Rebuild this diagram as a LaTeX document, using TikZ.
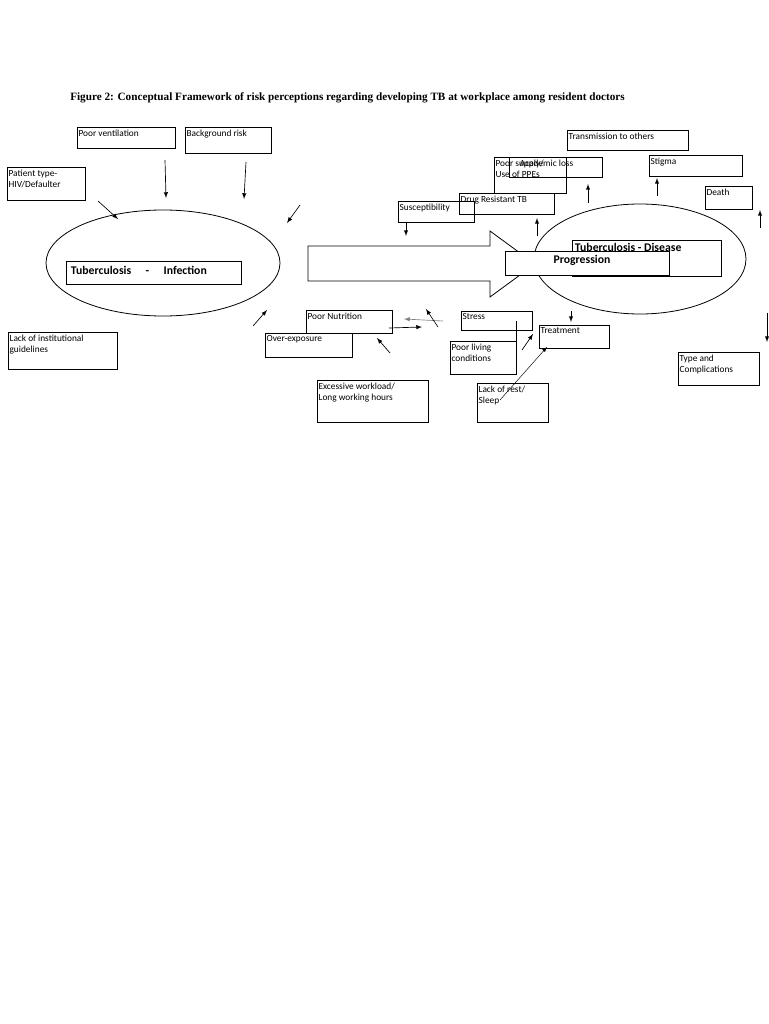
\documentclass[tikz,border=0pt]{standalone}
\usepackage{fontspec}
\setmainfont{Carlito}
\newfontfamily\ttl{Liberation Serif}
\tikzset{bxs/.style={draw=black,line width=0.6pt},
tx/.style={font=\fontsize{7pt}{8.6pt}\selectfont,inner xsep=1pt,inner ysep=1.8pt,align=left},
big/.style={font=\fontsize{8.8pt}{10pt}\selectfont\bfseries,inner sep=2pt},
ar/.style={-latex,line width=0.5pt}}
\newcommand\bx[6]{\draw[bxs] (#2,#3) rectangle (#4,#5); \node[tx,anchor=north west] (#1) at (#2,#3) {#6};}
\begin{document}
\begin{tikzpicture}[x=0.75pt,y=-0.75pt]
\useasboundingbox[fill=white] (0,0) rectangle (768,1024);
\node[anchor=west,font=\ttl\fontsize{8.4pt}{10pt}\selectfont\bfseries,inner sep=0] (title) at (70,98) {Figure 2: Conceptual Framework of risk perceptions regarding developing TB at workplace among resident doctors};
% ellipses
\draw[line width=0.6pt] (163,263) ellipse [x radius=117,y radius=53];
\draw[line width=0.6pt] (640,259) ellipse [x radius=106,y radius=55];
% big arrow
\draw[line width=0.6pt,fill=white] (308,246) -- (490,246) -- (490,231) -- (535,264) -- (490,297) -- (490,281) -- (308,281) -- cycle;
\bx{pv}{77}{127}{175}{148}{Poor ventilation}
\bx{br}{185}{127}{271}{153}{Background risk}
\bx{pt}{7}{167}{85}{200}{Patient type-\\HIV/Defaulter}
\draw[bxs] (66,261) rectangle (241,284);
\node[big,anchor=west] (tbi) at (68,270) {Tuberculosis \quad - \quad Infection};
\bx{li}{8}{332}{117}{369}{Lack of institutional\\guidelines}
\bx{tr}{567}{130}{688}{150}{Transmission to others}
\bx{pp}{494}{157}{566}{193}{Poor supply/\\Use of PPEs}
\bx{al}{509}{157}{602}{177}{\quad Academic loss}
\bx{st}{649}{155}{742}{176}{Stigma}
\bx{de}{705}{186}{752}{209}{Death}
\bx{dr}{459}{193}{554}{214}{Drug Resistant TB}
\bx{su}{398}{201}{474}{222}{Susceptibility}
\draw[bxs,fill=white] (572,240) rectangle (721,276);
\node[big,anchor=north west] (tbd) at (572,240) {Tuberculosis - Disease};
\draw[bxs,fill=white] (505,251) rectangle (669,275);
\node[big] (prog) at (582,260) {Progression};
\bx{pn}{306}{310}{392}{333}{Poor Nutrition}
\draw[bxs,fill=white] (265,333) rectangle (352,357);
\node[tx,anchor=north west] (ov) at (265,333) {Over-exposure};
\bx{sr}{461}{311}{532}{330}{Stress}
\bx{pl}{450}{341}{516}{374}{Poor living\\conditions}
\bx{tm}{539}{325}{609}{348}{Treatment}
\bx{ew}{317}{380}{428}{422}{Excessive workload/\\Long working hours}
\bx{lr}{477}{383}{548}{422}{Lack of rest/\\Sleep}
\bx{tc}{678}{352}{759}{385}{Type and\\Complications}
% arrows
\draw[ar] (165,160) -- (166,198);
\draw[ar] (246,162) -- (244,199);
\draw[ar] (98,201) -- (118,219);
\draw[ar] (300,205) -- (287,223);
\draw[ar] (253,326) -- (267,310);
\draw[ar,gray] (443,321) -- (404,319);
\draw[ar] (389,328) -- (422,327);
\draw[ar] (438,327) -- (426,309);
\draw[ar] (390,353) -- (377,338);
\draw[line width=0.5pt] (516,321) -- (516,352);
\draw[ar] (522,350) -- (533,334);
\draw[ar,line width=0.35pt] (500,400) -- (547,347);
\draw[ar] (571,311) -- (571,322);
\draw[ar] (406,222) -- (406,236);
\draw[ar] (537,236) -- (537,218);
\draw[ar] (588,203) -- (588,184);
\draw[ar] (657,196) -- (657,178);
\draw[ar] (760,228) -- (760,210);
\draw[ar] (767,313) -- (767,342);
\end{tikzpicture}
\end{document}
